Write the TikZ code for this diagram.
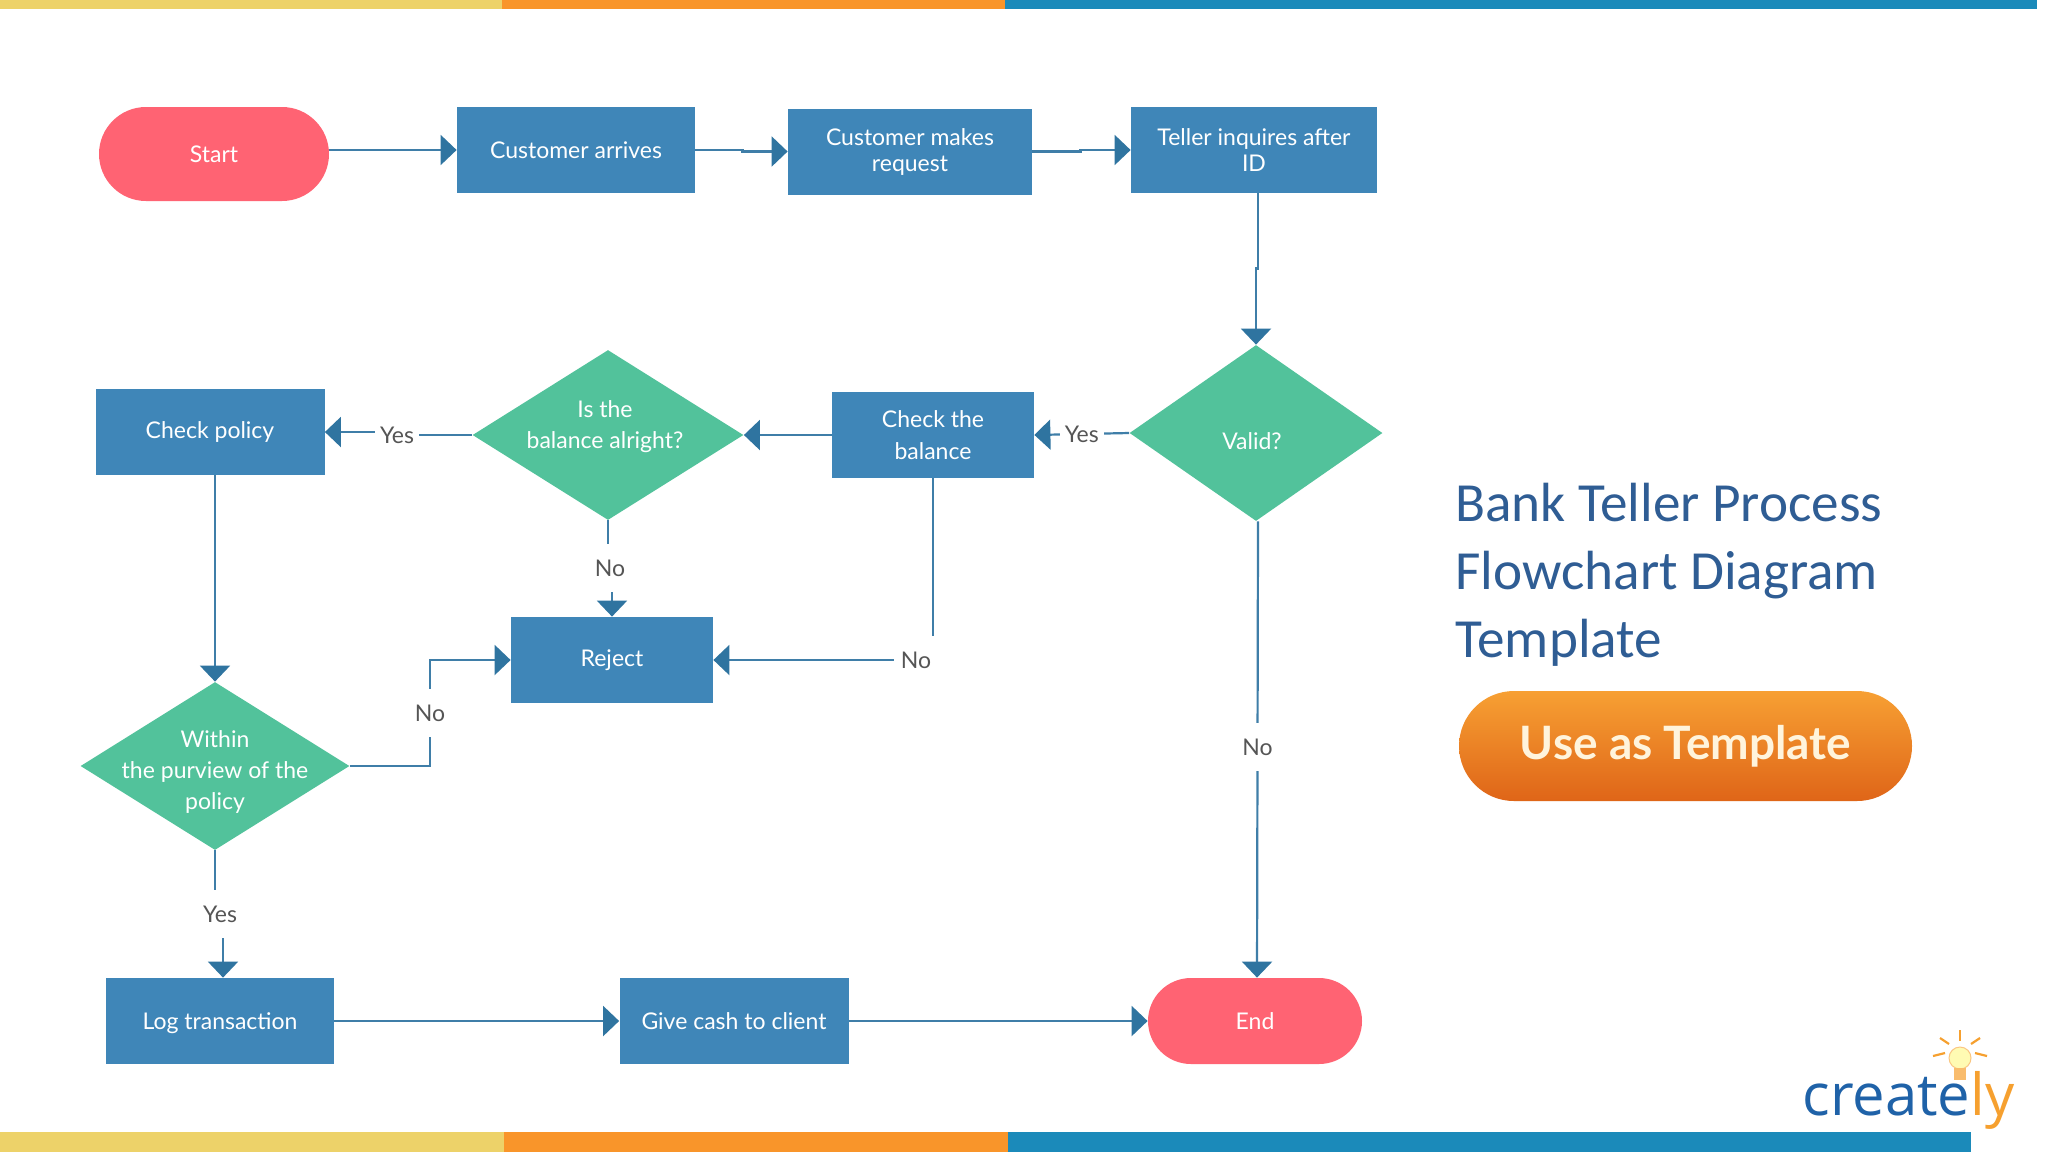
\documentclass[tikz,border=0pt]{standalone}
\usepackage{fontspec}
\setmainfont{Carlito}
\newfontfamily\flowfont{Lato}
\newfontfamily\logofont{Open Sans}
\usetikzlibrary{arrows.meta}
\usetikzlibrary{shapes.geometric}
\usetikzlibrary{shapes.misc}
\definecolor{boxblue}{HTML}{3F86B8}
\definecolor{linkblue}{HTML}{3F7EA8}
\definecolor{tipblue}{HTML}{2F74A0}
\definecolor{termred}{HTML}{FF6373}
\definecolor{gategreen}{HTML}{52C29B}
\definecolor{labelgrey}{HTML}{555555}
\definecolor{titleblue}{HTML}{2F5D94}
\definecolor{barblue}{HTML}{1B8ABA}
\definecolor{baryellow}{HTML}{EDD269}
\definecolor{barorange}{HTML}{F9952A}
\definecolor{logoblue}{HTML}{1F62A8}
\definecolor{logoorange}{HTML}{F6A02F}
\definecolor{buttontop}{HTML}{F7A033}
\definecolor{buttonbottom}{HTML}{DF6518}
\definecolor{buttontext}{HTML}{FFF4DC}
\tikzset{Process/.style={rectangle, fill=boxblue, text=white, align=center, font=\flowfont\fontsize{11.5}{13}\selectfont, inner sep=0pt, minimum width=#1, minimum height=43pt}}
\tikzset{Terminal/.style={rounded rectangle, fill=termred, text=white, font=\flowfont\fontsize{11.5}{13}\selectfont, inner sep=0pt, minimum width=#1, minimum height=43pt}}
\tikzset{Decision/.style={diamond, fill=gategreen, inner sep=0pt}}
\tikzset{DecisionText/.style={text=white, align=center, inner sep=0pt, font=\flowfont\fontsize{11.5}{15.5}\selectfont}}
\tikzset{Link/.style={draw=linkblue, line width=1.1pt, -{Triangle[length=8pt,width=15pt,color=tipblue]}}}
\tikzset{Answer/.style={fill=white, text=labelgrey, font=\flowfont\fontsize{11.5}{13}\selectfont, inner sep=0pt, minimum width=22pt, minimum height=24pt}}

\begin{document}
\begin{tikzpicture}[x=0.5pt, y=-0.5pt]
        \useasboundingbox (0,0) rectangle (2048,1152);
        \fill[white] (0,0) rectangle (2048,1152);

        \fill[baryellow] (0,0) rectangle (502,9);
        \fill[barorange] (502,0) rectangle (1005,9);
        \fill[barblue] (1005,0) rectangle (2037,9);
        \fill[baryellow] (0,1132) rectangle (504,1152);
        \fill[barorange] (504,1132) rectangle (1008,1152);
        \fill[barblue] (1008,1132) rectangle (1971,1152);

        \node[Terminal=115pt, minimum height=47pt] (start) at (214,154) {Start};
        \node[Process=119pt] (arrives) at (576,150) {Customer arrives};
        \node[Process=122pt] (makes) at (910,151.5) {Customer makes\\request};
        \node[Process=123pt] (teller) at (1254,150) {Teller inquires after\\ID};
        \node[Decision, minimum width=126.5pt, minimum height=88pt, label={[DecisionText, xshift=-2pt, yshift=-4pt]center:{Valid?}}] (valid) at (1256,433) {};
        \node[Process=101pt, font=\flowfont\fontsize{11.5}{16}\selectfont] (check) at (933,435) {Check the\\balance};
        \node[Decision, minimum width=135.5pt, minimum height=85pt, label={[DecisionText, xshift=-1.5pt, yshift=4pt]center:{Is the\\balance alright?}}] (balance) at (608,435) {};
        \node[Process=114.5pt] (policy) at (210,432) {Check policy};
        \node[Process=101pt] (reject) at (612,660) {Reject};
        \node[Decision, minimum width=134.5pt, minimum height=84pt, label={[DecisionText, yshift=-3pt]center:{Within\\the purview of the\\policy}}] (within) at (215,766) {};
        \node[Process=114pt, text depth=0pt] (log) at (220,1021) {Log transaction};
        \node[Process=114.5pt] (cash) at (734,1021) {Give cash to client};
        \node[Terminal=107pt] (end) at (1255,1021) {End};

        \draw[Link] (start.east |- arrives.west) -- (arrives.west);
        \draw[Link] (arrives.east) -- ++(47,0) |- (makes.west);
        \draw[Link] (makes.east) -- ++(48,0) |- (teller.west);
        \draw[Link] ([xshift=2pt]teller.south) -- ++(0,75) -| (valid.north);
        \draw[Link] (valid.west) -- node[Answer] {Yes} (check.east);
        \draw[Link] (check.west) -- (balance.east);
        \draw[Link] (balance.west) -- node[Answer, pos=1] {Yes} ++(-75,0) |- (policy.east);
        \draw[Link] (balance.south) -- node[Answer, pos=1, xshift=1pt] {No} ++(0,48) -| (reject.north);
        \draw[Link] (check.south) |- node[Answer, pos=0.5, xshift=-8.5pt] {No} (reject.east);
        \draw[Link] (policy.south -| within.north) -- (within.north);
        \coordinate (bend) at (430,660);
        \draw[Link] (within.east) -| node[Answer, pos=0.75] {No} (bend) -- (reject.west);
        \draw[Link] (within.south) -- node[Answer, pos=1, xshift=2.5pt] {Yes} ++(0,64) -| ([xshift=1.5pt]log.north);
        \draw[Link] (log.east) -- (cash.west);
        \draw[Link] (cash.east) -- (end.west);
        \draw[Link] ([xshift=1pt]valid.south) -- node[Answer, pos=0.495] {No} ([xshift=1pt]end.north);

        \node[anchor=base west, inner sep=0pt, text=titleblue, font=\fontsize{27.6}{34}\selectfont, align=left] (title) at (1455,657) {Bank Teller Process\\Flowchart Diagram\\Template};
        \node[rounded rectangle, top color=buttontop, bottom color=buttonbottom, minimum width=226.5pt, minimum height=55pt, inner sep=0pt, text=buttontext, font=\flowfont\bfseries\fontsize{23}{26}\selectfont] (button) at (1685.5,746) {Use as Template};

        \node[anchor=base west, inner sep=0pt, font=\logofont\fontsize{29}{30}\selectfont, text=logoblue] (logo) at (1802,1115) {create\textcolor{logoorange}{ly}};
        \fill[yellow!30!white, draw=logoorange!60!white, line width=0.5pt] (1960,1058) circle (5.5pt);
        \fill[logoorange!70!white] (1954,1068) rectangle (1966,1080);
        \foreach \a/\b/\c/\d in {1960/1030/1960/1041, 1940/1038/1949/1044, 1980/1038/1971/1044, 1933/1056/1945/1053, 1987/1056/1975/1053}
            \draw[logoorange, line width=1.1pt] (\a,\b) -- (\c,\d);
\end{tikzpicture}
\end{document}
